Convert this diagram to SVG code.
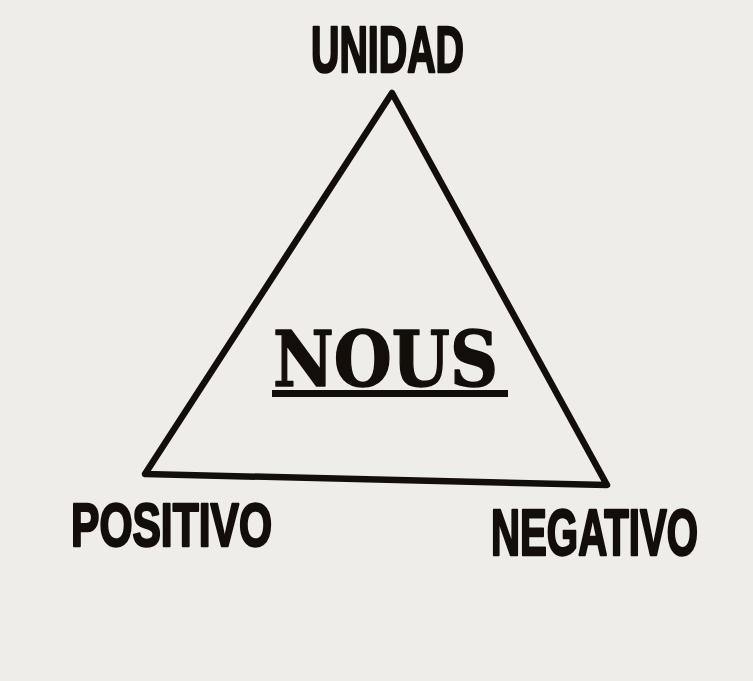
<svg xmlns="http://www.w3.org/2000/svg" width="753" height="681" viewBox="0 0 753 681">
<style>
.lbl{font-family:"Liberation Sans Narrow","Liberation Sans","DejaVu Sans Condensed",sans-serif;font-weight:bold;fill:#140e0a;stroke:#140e0a;stroke-width:2.5;stroke-linejoin:round}
.nous{font-family:"DejaVu Serif","Liberation Serif",serif;font-weight:bold;fill:#140e0a;stroke:#140e0a;stroke-width:1.5;stroke-linejoin:round}
.edge{fill:none;stroke:#140e0a;stroke-width:6.5;stroke-linejoin:round;stroke-linecap:round}
</style>
<rect width="753" height="681" fill="#efedea"/>
<g id="connectors">
<path class="edge" d="M392,93 L607,485 L145,474 Z"/>
</g>
<g id="unidad"><text class="lbl" x="311" y="72" font-size="64" textLength="153" lengthAdjust="spacingAndGlyphs">UNIDAD</text></g>
<g id="positivo"><text class="lbl" x="71" y="546" font-size="62" textLength="201" lengthAdjust="spacingAndGlyphs">POSITIVO</text></g>
<g id="negativo"><text class="lbl" x="491" y="555" font-size="64" textLength="207" lengthAdjust="spacingAndGlyphs">NEGATIVO</text></g>
<g id="nous">
<text class="nous" x="273" y="386" font-size="76" textLength="225" lengthAdjust="spacingAndGlyphs">NOUS</text>
<rect x="272" y="390" width="236" height="7" fill="#140e0a"/>
</g>
</svg>
